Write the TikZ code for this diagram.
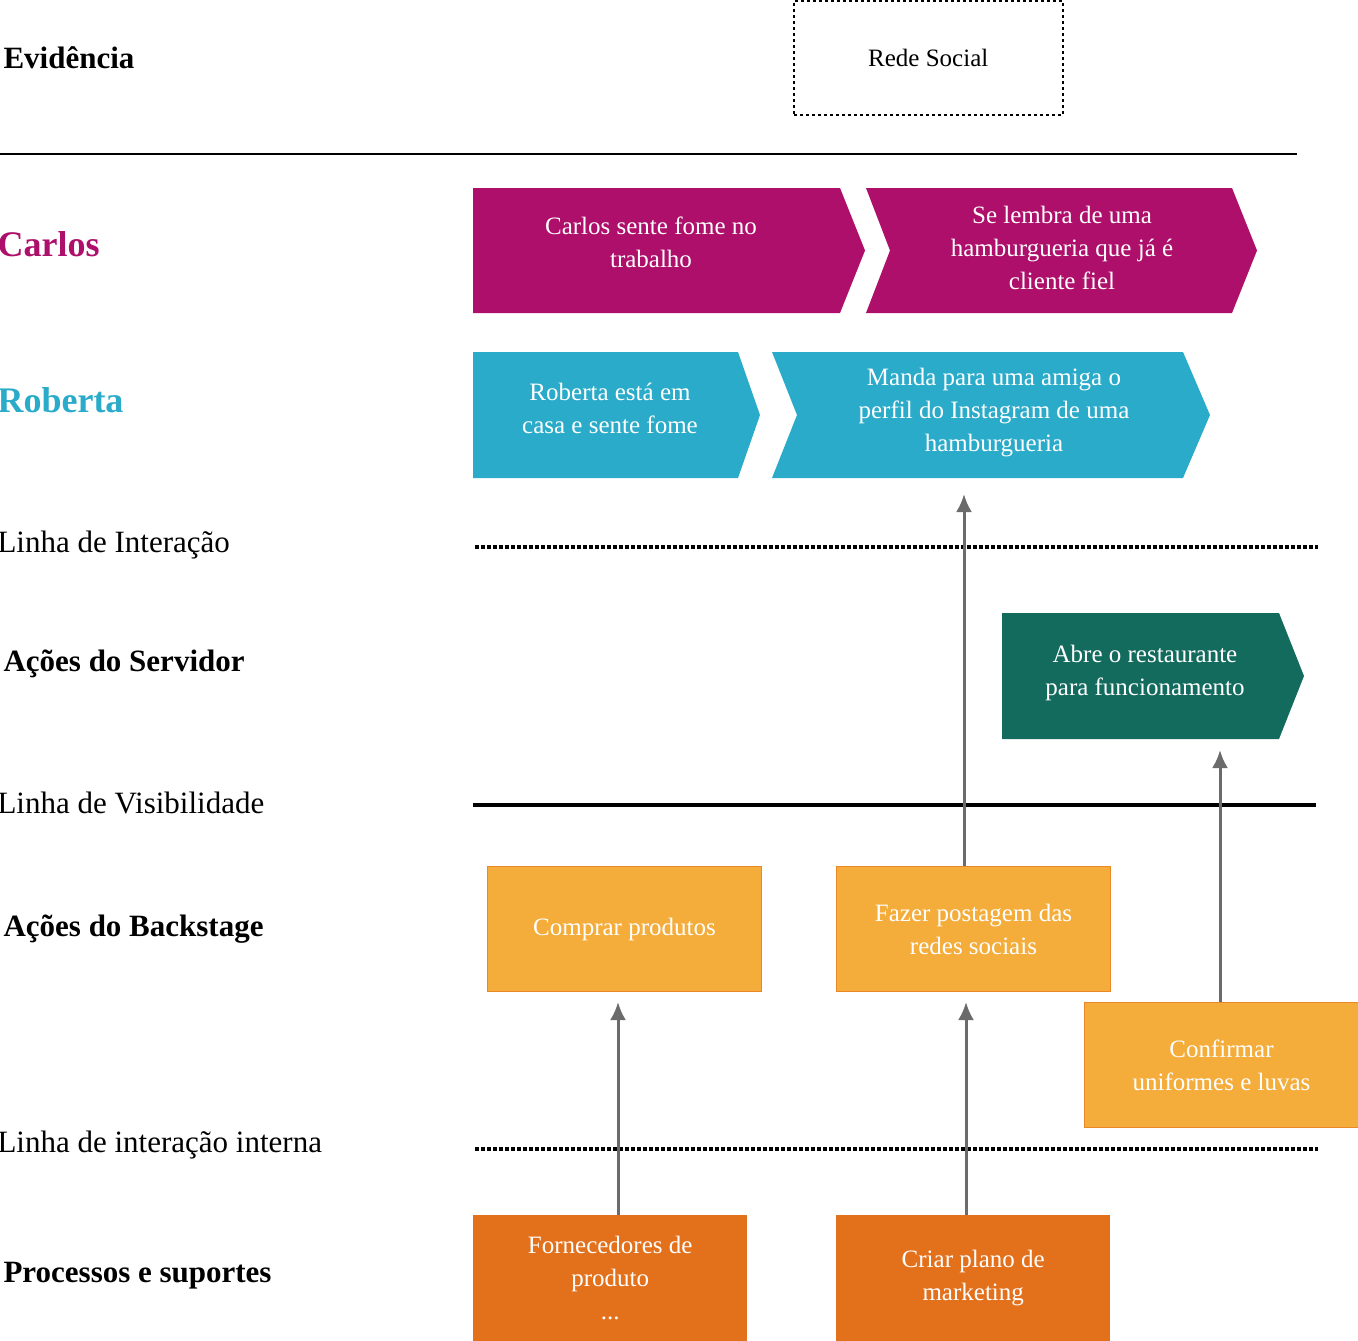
\documentclass[tikz,border=0pt]{standalone}
\usepackage{fontspec}
\setmainfont{Liberation Serif}
\begin{document}
\begin{tikzpicture}[x=1pt,y=-1pt,
  lab/.style={anchor=west,font=\fontsize{31}{36}\selectfont},
  blab/.style={lab,font=\fontsize{31}{36}\selectfont\bfseries},
  txt/.style={text=white,align=center,font=\fontsize{25}{33}\selectfont},
  box/.style={txt,minimum width=274pt,minimum height=125pt,inner sep=0pt,anchor=north west},
  arr/.style={draw=black!58,line width=3pt,-{Latex[length=18pt,width=16pt]}},
]
\usetikzlibrary{arrows.meta}
\useasboundingbox (0,0) rectangle (1358,1341);
\definecolor{mag}{HTML}{AD0F6B}\definecolor{cya}{HTML}{2AABC9}
\definecolor{grn}{HTML}{136B5E}\definecolor{ol}{HTML}{F4AC3A}\definecolor{od}{HTML}{E3701B}
% left labels
\node[blab] (e) at (0,58) {Evidência};
\node[blab,text=mag,font=\fontsize{36}{40}\selectfont\bfseries] (c) at (-6,244) {Carlos};
\node[blab,text=cya,font=\fontsize{36}{40}\selectfont\bfseries] (r) at (-6,400) {Roberta};
\node[lab] (li) at (-6,545) {Linha de Interação};
\node[blab] (as) at (0,664) {Ações do Servidor};
\node[lab] (lv) at (-6,803) {Linha de Visibilidade};
\node[blab] (ab) at (0,929) {Ações do Backstage};
\node[lab] (lii) at (-6,1145) {Linha de interação interna};
\node[blab] (ps) at (0,1276) {Processos e suportes};
% lines
\draw[line width=2.5pt] (0,154) -- (1297,154);
\draw[line width=4pt,dotted] (475,547) -- (1318,547);
\draw[line width=4pt] (473,805) -- (1316,805);
\draw[line width=4pt,dotted] (475,1149) -- (1318,1149);
% evidence
\node[draw,dashed,line width=1.5pt,minimum width=269pt,minimum height=114pt,anchor=north west,font=\fontsize{25}{30}\selectfont] (rs) at (793,0) {Rede Social};
% chevrons
\fill[mag] (473,188) -- (840,188) -- (865,250.5) -- (840,313) -- (473,313) -- cycle;
\node[txt] (c1) at (651,242) {Carlos sente fome no\\trabalho};
\fill[mag] (866,188) -- (1232,188) -- (1257,250.5) -- (1232,313) -- (866,313) -- (890,250.5) -- cycle;
\node[txt] (c2) at (1062,248) {Se lembra de uma\\hamburgueria que já é\\cliente fiel};
\fill[cya] (473,352) -- (738,352) -- (760,415) -- (738,478) -- (473,478) -- cycle;
\node[txt] (r1) at (610,408) {Roberta está em\\casa e sente fome};
\fill[cya] (772,352) -- (1183,352) -- (1210,415) -- (1183,478) -- (772,478) -- (797,415) -- cycle;
\node[txt] (r2) at (994,413) {Manda para uma amiga o\\perfil do Instagram de uma\\hamburgueria};
\fill[grn] (1002,613) -- (1279,613) -- (1304,676) -- (1279,739) -- (1002,739) -- cycle;
\node[txt] (s1) at (1145,673) {Abre o restaurante\\para funcionamento};
% boxes
\node[box,fill=ol,draw=od!60!ol,line width=1pt] (b1) at (487,866) {Comprar produtos};
\node[box,fill=ol,draw=od!60!ol,line width=1pt] (b2) at (836,866) {Fazer postagem das\\redes sociais};
\node[box,fill=ol,draw=od!60!ol,line width=1pt] (b3) at (1084,1002) {Confirmar\\uniformes e luvas};
\node[box,fill=od,minimum height=126pt] (p1) at (473,1215) {Fornecedores de\\produto\\...};
\node[box,fill=od,minimum height=126pt] (p2) at (836,1215) {Criar plano de\\marketing};
% arrows
\coordinate (t1) at (964,494);
\coordinate (t2) at (1220,750);
\coordinate (t3) at (618,1002);
\coordinate (t4) at (966,1002);
\draw[arr] (b2.north -| t1) -- (t1);
\draw[arr] (b3.north -| t2) -- (t2);
\draw[arr] (p1.north -| t3) -- (t3);
\draw[arr] (p2.north -| t4) -- (t4);
\end{tikzpicture}
\end{document}
